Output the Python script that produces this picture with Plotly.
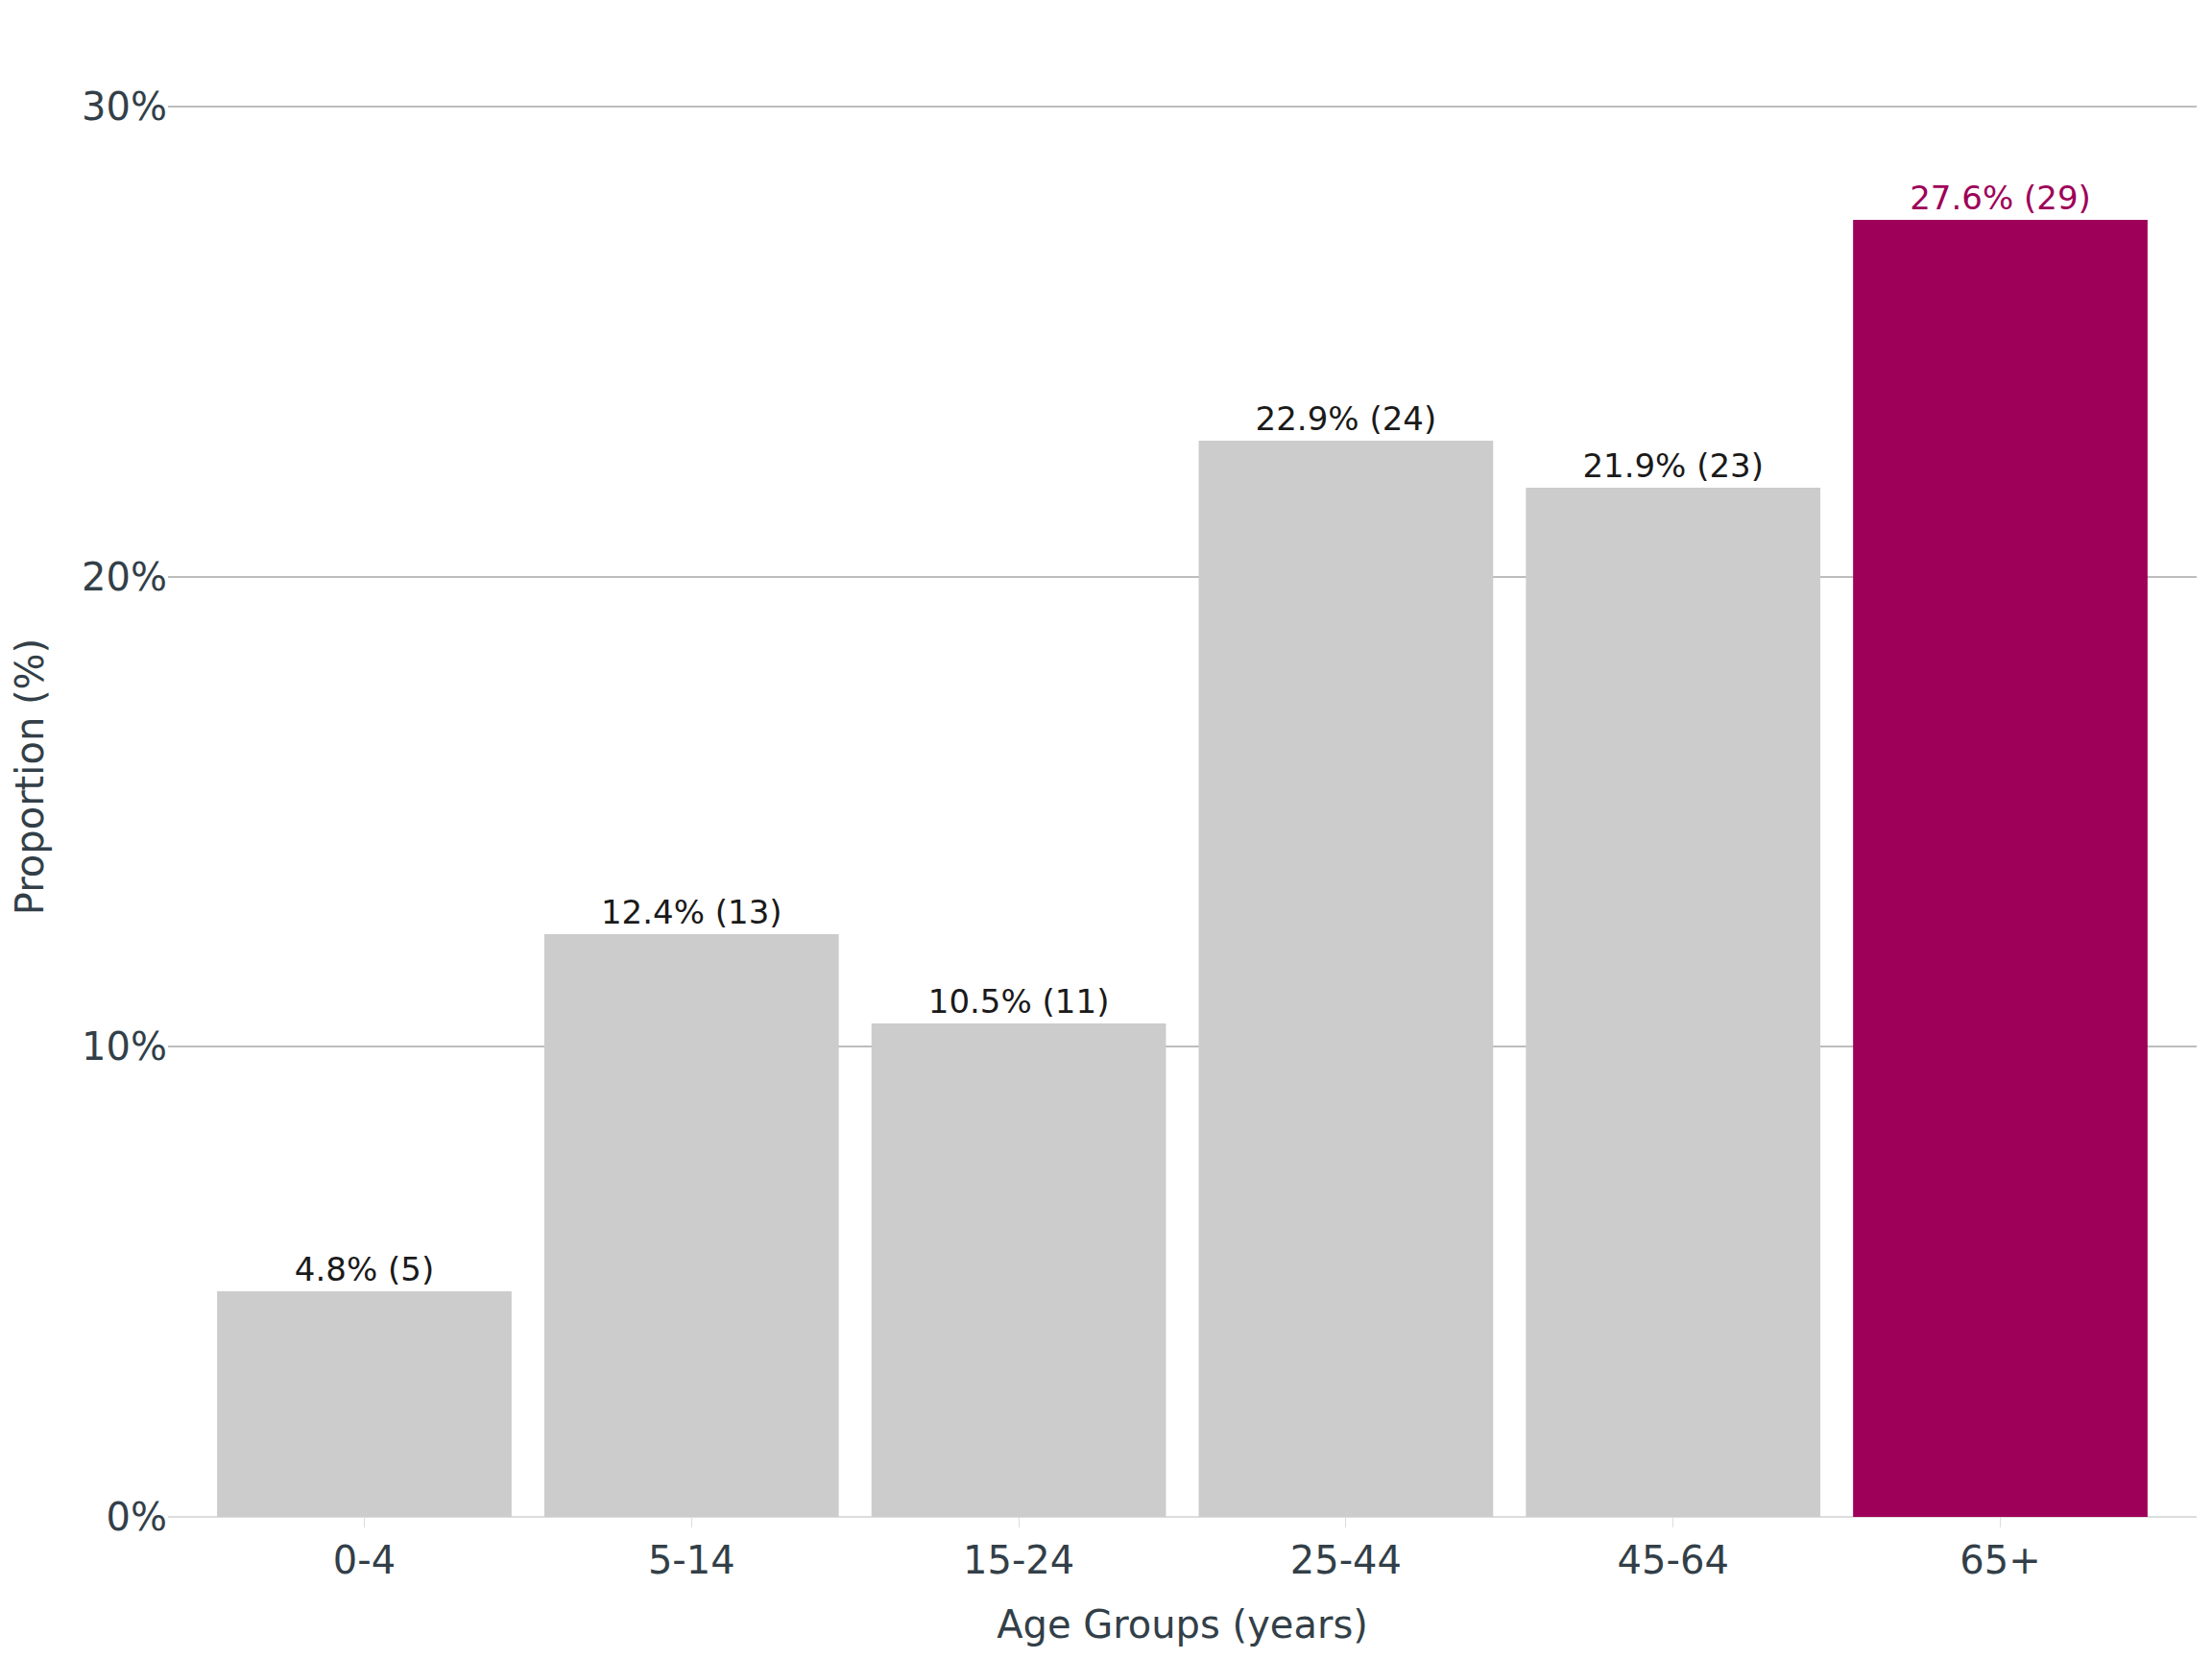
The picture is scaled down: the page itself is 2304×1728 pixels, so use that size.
import plotly.graph_objects as go

categories = ["0-4", "5-14", "15-24", "25-44", "45-64", "65+"]
proportions = [4.8, 12.4, 10.5, 22.9, 21.9, 27.6]
counts = [5, 13, 11, 24, 23, 29]
highlight = [False, False, False, False, False, True]

GRAY = "#cccccc"
HILITE = "#9e0059"
TEXT = "#333f48"

bar_colors = [HILITE if h else GRAY for h in highlight]
label_colors = [HILITE if h else "#1a1a1a" for h in highlight]
labels = [f"{p:.1f}% ({c})" for p, c in zip(proportions, counts)]

fig = go.Figure(
    go.Bar(
        x=categories,
        y=proportions,
        marker=dict(color=bar_colors, line=dict(width=0)),
        width=0.9,
        text=labels,
        textposition="outside",
        textfont=dict(family="DejaVu Sans", size=34, color=label_colors),
        cliponaxis=False,
        hoverinfo="skip",
    )
)

fig.update_layout(
    width=2304,
    height=1728,
    paper_bgcolor="white",
    plot_bgcolor="white",
    margin=dict(l=167, r=24, t=30, b=156),
    font=dict(family="DejaVu Sans", color=TEXT),
    showlegend=False,
    bargap=0.1,
)

fig.update_xaxes(
    range=[-0.6, 5.6],
    showgrid=False,
    showline=False,
    zeroline=False,
    ticks="outside",
    ticklen=10,
    tickwidth=1,
    tickcolor="#dddddd",
    tickfont=dict(size=40, color=TEXT),
    title=dict(text="Age Groups (years)", font=dict(size=40, color=TEXT), standoff=30),
)

fig.update_yaxes(
    range=[0, 31.5],
    tickvals=[0, 10, 20, 30],
    ticktext=["0%", "10%", "20%", "30%"],
    showgrid=True,
    gridcolor="#bdbdbd",
    gridwidth=2,
    zeroline=True,
    zerolinecolor="#dddddd",
    zerolinewidth=2,
    showline=False,
    ticks="",
    tickfont=dict(size=40, color=TEXT),
    title=dict(text="Proportion (%)", font=dict(size=40, color=TEXT), standoff=30),
)

fig.write_html("out.html")
